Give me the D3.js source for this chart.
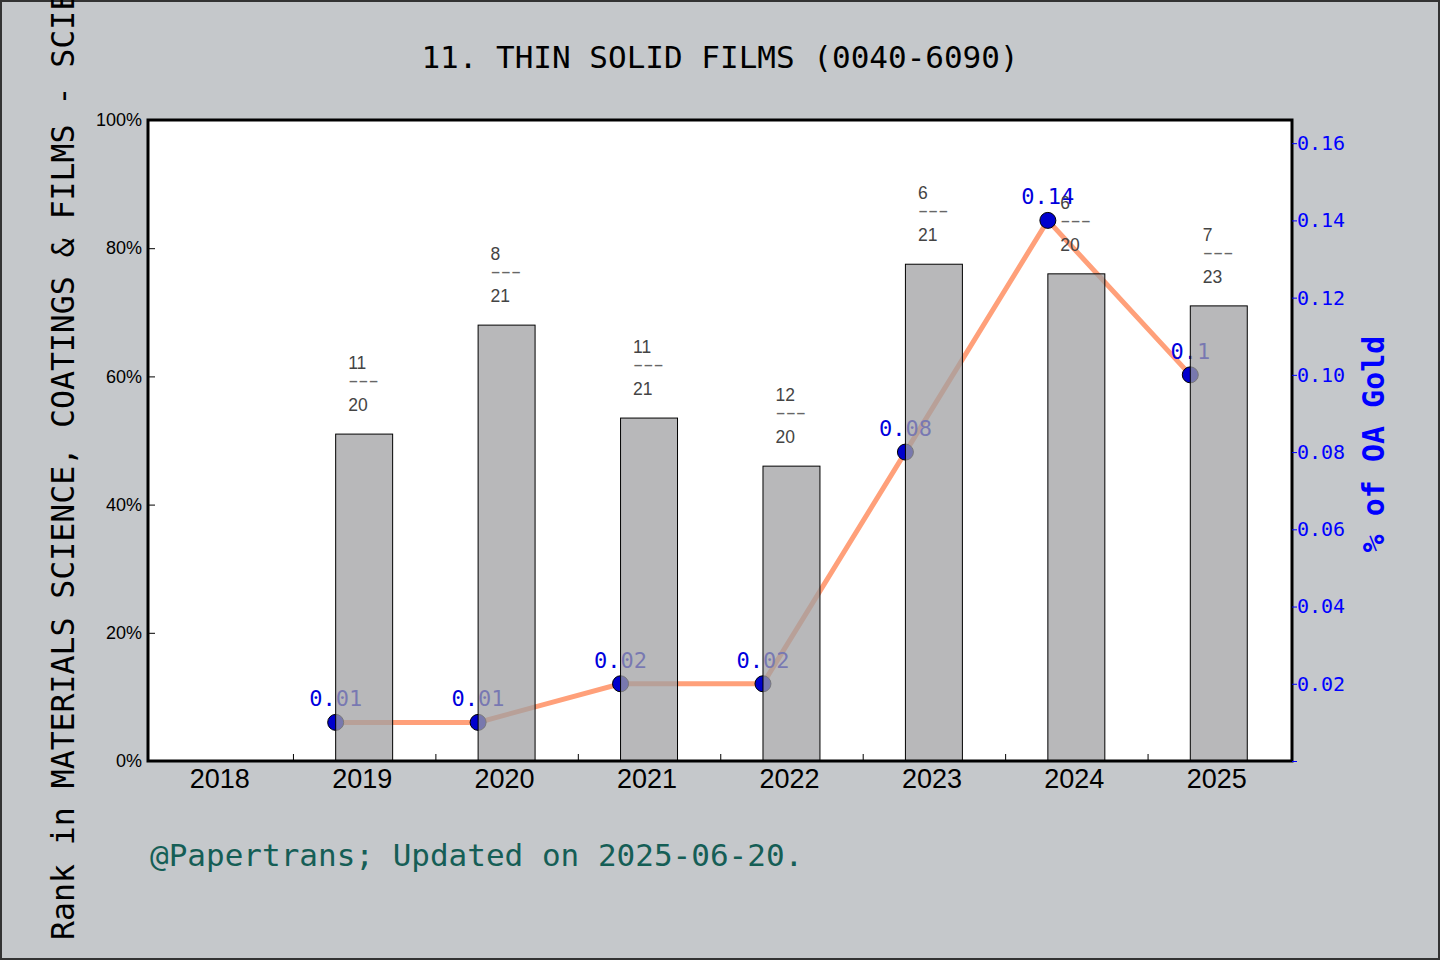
<!DOCTYPE html>
<html>
<head>
<meta charset="utf-8">
<script src="https://cdn.jsdelivr.net/npm/d3@7"></script>
<style>
    body { margin: 0; background: #c5c8cb; }
    svg { display: block; }
</style>
</head>
<body>
<div id="chart"></div>
<script>
var years = ["2018", "2019", "2020", "2021", "2022", "2023", "2024", "2025"];
var rankPct = [null, 0.51, 0.68, 0.535, 0.46, 0.775, 0.76, 0.71];
var rankNum = [null, 11, 8, 11, 12, 6, 6, 7];
var rankTotal = [null, 20, 21, 21, 20, 21, 20, 23];
var oaGold = [null, 0.01, 0.01, 0.02, 0.02, 0.08, 0.14, 0.1];
var leftTicks = [0, 0.2, 0.4, 0.6, 0.8, 1];
var rightTicks = [0, 0.02, 0.04, 0.06, 0.08, 0.10, 0.12, 0.14, 0.16];

(function() {
    var W = 1440, H = 960,
        plot = { left: 148, top: 120, right: 1292, bottom: 761 },
        mono = "'DejaVu Sans Mono', monospace",
        sans = "'Liberation Sans', Arial, sans-serif";

    var svg = d3.select("#chart")
        .append("svg")
        .attr("width", W)
        .attr("height", H);

    svg.append("rect")
        .attr("x", 1).attr("y", 1)
        .attr("width", W - 2).attr("height", H - 2)
        .attr("fill", "#c5c8cb")
        .attr("stroke", "#333")
        .attr("stroke-width", 2);

    // plot frame
    svg.append("rect")
        .attr("x", plot.left).attr("y", plot.top)
        .attr("width", plot.right - plot.left)
        .attr("height", plot.bottom - plot.top)
        .attr("fill", "#fff");

    var x = d3.scaleBand()
        .domain(years)
        .range([150.5, 1290]);
    var xi = d3.scaleLinear().domain([0, years.length]).range(x.range());
    var yL = d3.scaleLinear().domain([0, 1]).range([plot.bottom, plot.top]);
    var yR = d3.scaleLinear().domain([0, 0.166]).range([plot.bottom, plot.top]);

    var barW = x.bandwidth() * 0.4;
    var cx = d => x(d) + x.bandwidth() / 2;

    var rows = years.map((y, i) => ({
        year: y, pct: rankPct[i], num: rankNum[i], total: rankTotal[i], oa: oaGold[i]
    }));
    var has = rows.filter(d => d.pct != null);

    // OA gold line, points and labels (bars are drawn over them)
    var line = d3.line()
        .defined(d => d.oa != null)
        .x(d => cx(d.year) - barW / 2)
        .y(d => yR(d.oa));

    svg.append("path")
        .datum(rows)
        .attr("d", line)
        .attr("fill", "none")
        .attr("stroke", "#ffa07a")
        .attr("stroke-width", 5);

    svg.selectAll(".dot")
        .data(has)
        .enter().append("circle")
        .attr("class", "dot")
        .attr("cx", d => cx(d.year) - barW / 2)
        .attr("cy", d => yR(d.oa))
        .attr("r", 8)
        .attr("fill", "#0000cd")
        .attr("stroke", "#000")
        .attr("stroke-width", 1);

    svg.selectAll(".oa_label")
        .data(has)
        .enter().append("text")
        .attr("class", "oa_label")
        .attr("x", d => cx(d.year) - barW / 2)
        .attr("y", d => yR(d.oa) - 16)
        .attr("text-anchor", "middle")
        .attr("font-family", mono)
        .attr("font-size", 22)
        .attr("fill", "#0000dd")
        .text(d => String(d.oa));

    // rank bars
    svg.selectAll(".bar")
        .data(has)
        .enter().append("rect")
        .attr("class", "bar")
        .attr("x", d => cx(d.year) - barW / 2)
        .attr("y", d => yL(d.pct))
        .attr("width", barW)
        .attr("height", d => yL(0) - yL(d.pct))
        .attr("fill", "rgb(160,160,163)")
        .attr("fill-opacity", 0.75)
        .attr("stroke", "#000")
        .attr("stroke-width", 1);

    // rank / total labels above bars
    var lab = svg.selectAll(".rank_label")
        .data(has)
        .enter().append("g")
        .attr("class", "rank_label")
        .attr("transform", d => "translate(" + (cx(d.year) - 16) + "," + yL(d.pct) + ")")
        .attr("font-family", sans)
        .attr("font-size", 17.5)
        .attr("fill", "#444");
    lab.append("text").attr("y", -65).text(d => d.num);
    lab.append("text")
        .attr("transform", "translate(0,-47) scale(1.75,1)")
        .attr("fill", "#666")
        .text("---");
    lab.append("text").attr("y", -23).text(d => d.total);

    svg.append("rect")
        .attr("x", plot.left).attr("y", plot.top)
        .attr("width", plot.right - plot.left)
        .attr("height", plot.bottom - plot.top)
        .attr("fill", "none")
        .attr("stroke", "#000")
        .attr("stroke-width", 3);

    // axes
    var gL = svg.append("g")
        .attr("transform", "translate(" + plot.left + ",0)")
        .call(d3.axisLeft(yL).tickValues(leftTicks).tickFormat(d3.format(".0%")).tickSize(-7).tickPadding(6));
    gL.select(".domain").remove();
    gL.selectAll("text").attr("font-family", sans).attr("font-size", 18).attr("fill", "#000");

    var gB = svg.append("g")
        .attr("transform", "translate(0," + plot.bottom + ")")
        .call(d3.axisBottom(x).tickSize(0).tickPadding(8));
    gB.select(".domain").remove();
    gB.selectAll("text").attr("font-family", sans).attr("font-size", 27).attr("fill", "#000").attr("dx", -2);

    var gM = svg.append("g")
        .attr("transform", "translate(0," + plot.bottom + ")")
        .call(d3.axisBottom(xi).tickValues(d3.range(1, years.length)).tickFormat("").tickSize(-7));
    gM.select(".domain").remove();

    var gR = svg.append("g")
        .attr("transform", "translate(" + plot.right + ",0)")
        .call(d3.axisRight(yR).tickValues(rightTicks)
            .tickFormat(d => d === 0 ? "" : d3.format(".2f")(d)).tickSize(5).tickPadding(0));
    gR.select(".domain").remove();
    gR.selectAll("line").attr("stroke", "#0000ff");
    gR.selectAll("text").attr("font-family", mono).attr("font-size", 20).attr("fill", "#0000ff");

    // titles
    svg.append("text")
        .attr("x", 720).attr("y", 68)
        .attr("text-anchor", "middle")
        .attr("font-family", mono)
        .attr("font-size", 31)
        .attr("fill", "#000")
        .text("11. THIN SOLID FILMS (0040-6090)");

    svg.append("text")
        .attr("transform", "translate(74,940) rotate(-90)")
        .attr("font-family", mono)
        .attr("font-size", 31.5)
        .attr("fill", "#000")
        .text("Rank in MATERIALS SCIENCE, COATINGS & FILMS - SCIE");

    svg.append("text")
        .attr("transform", "translate(1384,444) rotate(-90)")
        .attr("text-anchor", "middle")
        .attr("font-family", mono)
        .attr("font-size", 30)
        .attr("font-weight", "bold")
        .attr("fill", "#0000ff")
        .text("% of OA Gold");

    svg.append("text")
        .attr("x", 150).attr("y", 866)
        .attr("font-family", mono)
        .attr("font-size", 31)
        .attr("fill", "#155e56")
        .text("@Papertrans; Updated on 2025-06-20.");
})();
</script>
</body>
</html>
